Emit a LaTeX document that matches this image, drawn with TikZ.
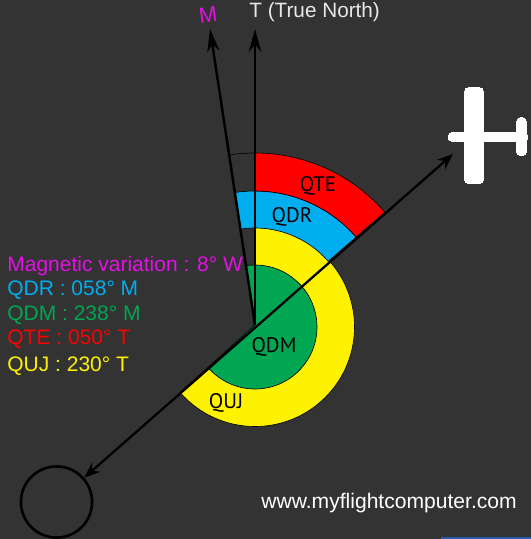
\documentclass[tikz,border=0pt]{standalone}
\usepackage{xcolor}
\usepackage{fontspec}
\setmainfont{Liberation Sans}
\newfontfamily\sectorfont{PT Sans}
\usetikzlibrary{arrows.meta,positioning,calc}
\definecolor{bgdark}{HTML}{333333}
\definecolor{qdrblue}{HTML}{00AEEF}
\definecolor{qdmgreen}{HTML}{00A651}
\definecolor{varmagenta}{HTML}{E60FE6}
\definecolor{textgrey}{HTML}{E8E8E8}
\definecolor{stripblue}{HTML}{2A5CAA}
\tikzset{
  sector/.style={draw=black,line width=0.35pt},
  sectorlabel/.style={font=\sectorfont\fontsize{12}{14}\selectfont,text=black,inner sep=0pt},
  legend/.style={anchor=west,inner sep=0pt,font=\fontsize{11.95}{14}\selectfont},
  planepart/.style={fill=white,draw=white,line width=0pt,inner sep=0pt,rounded corners=#1},
  northline/.style={line width=1.4pt,-{Stealth[length=13pt,width=7pt]}},
  trackline/.style={line width=1.3pt,{Stealth[length=9pt,width=7pt]}-{Stealth[length=9pt,width=7pt]}}
}
\begin{document}
\begin{tikzpicture}[x=0.02cm,y=0.02cm]
\fill[bgdark] (0,0) rectangle (531,539);
\useasboundingbox (0,0) rectangle (531,539);
\fill[stripblue] (441,0) rectangle (531,2);
\coordinate (apex) at (255,214);
\coordinate (mtip) at (210,510);
\coordinate (ttip) at (255,510);
\coordinate (planetip) at (453,385);
% sectors
\draw[sector,fill=yellow] (255,311.5) arc[start angle=90,end angle=-139,radius=99.5] -- (apex) -- cycle;
\draw[sector,fill=qdmgreen] ($(255,212)+(98.6:62)$) arc[start angle=98.6,end angle=-139,radius=62] -- (apex) -- cycle;
\draw[sector,fill=qdrblue] ($(apex)+(98.6:97)$) arc[start angle=98.6,end angle=41,radius=97] -- ($(apex)+(41:134)$) arc[start angle=41,end angle=98.6,radius=134] -- cycle;
\draw[sector,fill=red] ($(apex)+(90:134)$) arc[start angle=90,end angle=41,radius=134] -- ($(apex)+(41:172)$) arc[start angle=41,end angle=90,radius=172] -- cycle;
\draw[sector] ($(apex)+(98.6:172)$) arc[start angle=98.6,end angle=90,radius=172];
% aircraft and airfield
\node[planepart=3pt,minimum width=11.3pt,minimum height=55pt] (wing) at (474,403.5) {};
\node[planepart=2pt,minimum width=45.4pt,minimum height=4.8pt] (fuselage) at (488,402) {};
\node[planepart=2.5pt,minimum width=5.4pt,minimum height=22pt] (tail) at (521.5,402.5) {};
\node[circle,draw=black,line width=1.5pt,minimum size=40.5pt,inner sep=0pt] (airfield) at (56.5,37) {};
% lines
\draw[northline] (apex) -- (mtip);
\draw[northline] (apex) -- (ttip);
\draw[trackline] (airfield) -- (planetip);
% labels
\node[sectorlabel] (qte) at (318,353) {QTE};
\node[sectorlabel] (qdr) at (292,322) {QDR};
\node[sectorlabel] (qdm) at (274,192) {QDM};
\node[sectorlabel] (quj) at (226,136) {QUJ};
\node[text=varmagenta,rotate=8,inner sep=0pt,font=\fontsize{12.4}{14}\selectfont] (mlabel) at (208,524) {M};
\node[text=textgrey,anchor=west,inner sep=0pt,font=\fontsize{11.8}{14}\selectfont] (tlabel) at (249,527) {T (True North)};
\foreach \n/\c/\y/\t in {var/varmagenta/272.5/{Magnetic variation : 8° W},qdrtxt/qdrblue/248.5/{QDR : 058° M},qdmtxt/qdmgreen/224/{QDM : 238° M},qtetxt/red/199.5/{QTE : 050° T},qujtxt/yellow/172.5/{QUJ : 230° T}}{
  \node[legend,text=\c] (\n) at (7,\y) {\t};
}
\node[text=white,anchor=west,inner sep=0pt,font=\fontsize{12}{14}\selectfont] (site) at (261,36) {www.myflightcomputer.com};
\end{tikzpicture}
\end{document}
